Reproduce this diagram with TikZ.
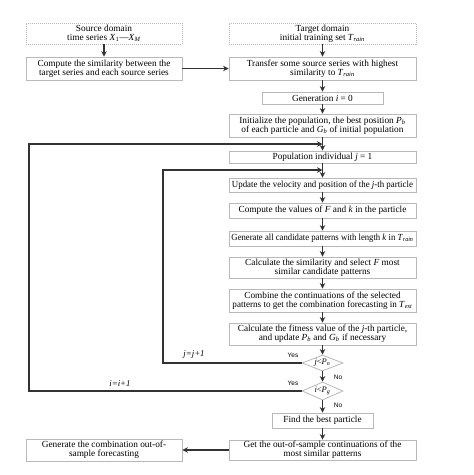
\documentclass[tikz,border=0pt]{standalone}
\usepackage{fontspec}
\setmainfont{Liberation Serif}
\setsansfont{Liberation Sans}
\usetikzlibrary{arrows.meta,shapes.geometric}
\newcommand\vv[1]{\textit{#1}}
\newcommand\sbi[1]{\textsubscript{\textit{#1}}}
\newcommand\fitw[2]{\resizebox{#1}{\height}{#2}}
\begin{document}
\begin{tikzpicture}[x=1pt,y=-1pt,
 box/.style={draw=gray!55,line width=0.8pt,inner sep=0pt,align=center,fill=white,
   font=\fontsize{9.3}{8.6}\selectfont},
 sz/.style 2 args={minimum width=#1pt,minimum height=#2pt},
 dbox/.style={box,dashed,dash pattern=on 1pt off 1pt},
 dia/.style={draw=gray!55,line width=0.8pt,diamond,inner sep=0pt,aspect=2.4,
   font=\fontsize{8.5}{8.5}\selectfont},
 arr/.style={draw=black!80,line width=1.1pt,-{Stealth[length=5.5pt,width=5.5pt]}},
 lbl/.style={font=\fontsize{8.8}{8.8}\selectfont\itshape,inner sep=0pt},
 yn/.style={font=\fontsize{6.5}{6.5}\sffamily,inner sep=0pt}]
\useasboundingbox (0,0) rectangle (474,475);
\fill[white] (0,0) rectangle (474,475);

\node[dbox,sz={156}{21}] (src) at (104,33.5) {Source domain\\time series \vv{X}\textsubscript{1}—\vv{X}\sbi{M}};
\node[dbox,sz={187}{21}] (tgt) at (322.5,33.5) {Target domain\\initial training set \vv{T}\sbi{rain}};
\node[box,sz={156}{23}] (comp) at (104,68.5) {Compute the similarity between the\\target series and each source series};
\node[box,sz={187}{23}] (trans) at (322.5,68.5) {Transfer some source series with highest\\similarity to \vv{T}\sbi{rain}};
\node[box,sz={121}{12}] (gen) at (322.5,98) {Generation \vv{i} = 0};
\node[box,sz={187}{23}] (init) at (322.5,125.5) {Initialize the population, the best position \vv{P}\sbi{b}\\of each particle and \vv{G}\sbi{b} of initial population};
\node[box,sz={187}{12}] (pop) at (322.5,157) {Population individual \vv{j} = 1};
\node[box,sz={187}{14}] (upd) at (322.5,185) {\fitw{181pt}{Update the velocity and position of the \vv{j}-th particle}};
\node[box,sz={187}{15}] (cval) at (322.5,210.5) {Compute the values of \vv{F} and \vv{k} in the particle};
\node[box,sz={187}{15}] (gall) at (322.5,238.5) {\fitw{182pt}{Generate all candidate patterns with length \vv{k} in \vv{T}\sbi{rain}}};
\node[box,sz={187}{21}] (csim) at (322.5,267.5) {Calculate the similarity and select \vv{F} most\\similar candidate patterns};
\node[box,sz={187}{23}] (comb) at (322.5,300.5) {Combine the continuations of the selected\\\fitw{180pt}{patterns to get the combination forecasting in \vv{T}\sbi{est}}};
\node[box,sz={187}{22}] (fit) at (322.5,334) {Calculate the fitness value of the \vv{j}-th particle,\\and update \vv{P}\sbi{b} and \vv{G}\sbi{b} if necessary};
\node[dia,sz={41}{16}] (d1) at (322.5,363) {\vv{j}<\vv{P}\sbi{n}};
\node[dia,sz={41}{18}] (d2) at (322.5,391) {\vv{i}<\vv{P}\sbi{g}};
\node[box,sz={101}{15}] (best) at (322.5,420.5) {Find the best particle};
\node[box,sz={187}{20}] (gout) at (322.5,450) {Get the out-of-sample continuations of the\\most similar patterns};
\node[box,sz={156}{22}] (gcomb) at (104,450) {Generate the combination out-of-\\sample forecasting};

\coordinate (jl) at (163,170);
\coordinate (jm) at (322.5,170);
\coordinate (il) at (29,144);
\coordinate (im) at (322.5,144);

\draw[arr] (src) -- (comp);
\draw[arr] (tgt) -- (trans);
\draw[arr] (comp) -- (trans);
\draw[arr] (trans) -- (gen);
\draw[arr] (gen) -- (init);
\draw[arr] (init) -- (pop);
\draw[arr] (pop) -- (upd);
\draw[arr] (upd) -- (cval);
\draw[arr] (cval) -- (gall);
\draw[arr] (gall) -- (csim);
\draw[arr] (csim) -- (comb);
\draw[arr] (comb) -- (fit);
\draw[arr] (fit) -- (d1);
\draw[arr] (d1) -- (d2);
\draw[arr] (d2) -- (best);
\draw[arr] (best) -- (gout);
\draw[arr] (gout) -- (gcomb);
\draw[arr] (d1.west) -| (jl) -- (jm);
\draw[arr] (d2.west) -| (il) -- (im);

\node[lbl] (l1) at (194,355) {j=j+1};
\node[lbl] (l2) at (120,383.5) {i=i+1};
\node[yn] (y1) at (293,355.5) {Yes};
\node[yn] (y2) at (293,383.5) {Yes};
\node[yn] (n1) at (338,377) {No};
\node[yn] (n2) at (338,405.5) {No};
\end{tikzpicture}
\end{document}
